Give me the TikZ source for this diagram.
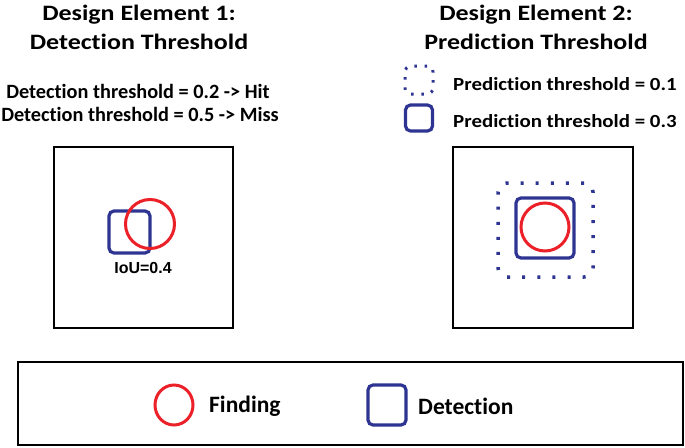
\documentclass[tikz,border=0pt]{standalone}
\usepackage{fontspec}
\usetikzlibrary{shapes.geometric}
\setmainfont{Carlito}[Ligatures={NoCommon}]
\newfontfamily\arialfont{Liberation Sans}
\definecolor{findred}{RGB}{236,32,40}
\definecolor{detblue}{RGB}{46,52,146}
\newcommand{\wider}[2]{\scalebox{#1}[1]{#2}}
\tikzset{
  frame/.style={draw=black, line width=2.4pt, inner sep=0pt},
  detbox/.style={draw=detblue, line width=3.2pt, rounded corners=5pt, inner sep=0pt},
  dotbox/.style={draw=detblue, line width=3.5pt, rounded corners=9pt, inner sep=0pt, dash pattern=on 3pt off 12.1pt},
  findcirc/.style={draw=findred, line width=3pt, circle, inner sep=0pt},
  title/.style={font=\fontsize{22}{27}\selectfont\bfseries, inner sep=0pt},
  label/.style={font=\fontsize{20.3}{25}\selectfont\bfseries, inner sep=0pt},
  plabel/.style={font=\fontsize{18.5}{22}\selectfont\bfseries, inner sep=0pt, anchor=west},
  leglabel/.style={font=\fontsize{23.5}{27}\selectfont\bfseries, anchor=west, inner sep=0pt},
}
\begin{document}
\begin{tikzpicture}[x=1pt,y=-1pt]
\useasboundingbox (0,0) rectangle (685,447);
% titles
\node[title] (t1a) at (139,15) {\wider{1.18}{Design Element 1:}};
\node[title] (t1b) at (139,42) {\wider{1.18}{Detection Threshold}};
\node[title] (t2a) at (536,15) {\wider{1.18}{Design Element 2:}};
\node[title] (t2b) at (536,42) {\wider{1.18}{Prediction Threshold}};
% left texts
\node[label] (d1) at (138,91) {Detection threshold = 0.2 -> Hit};
\node[label] (d2) at (140,114) {Detection threshold = 0.5 -> Miss};
% right legend
\node[dotbox, minimum width=28pt, minimum height=28pt, rounded corners=6pt, dash pattern=on 2.5pt off 7.67pt, line width=3pt] (lg1) at (419,80) {};
\node[detbox, minimum width=27pt, minimum height=26pt] (lg2) at (419,118) {};
\node[plabel] (p1) at (453,84) {\wider{1.13}{Prediction threshold = 0.1}};
\node[plabel] (p2) at (453,121) {\wider{1.13}{Prediction threshold = 0.3}};
% left frame
\node[frame, minimum width=179pt, minimum height=181pt] (f1) at (143.5,237.5) {};
\node[detbox, minimum width=41pt, minimum height=42pt] (b1) at (129.5,232) {};
\node[findcirc, minimum size=49pt] (c1) at (150,224) {};
\node[font=\arialfont\bfseries\fontsize{16}{19}\selectfont, inner sep=0pt] (iou) at (143,268) {IoU=0.4};
% right frame
\node[frame, minimum width=180pt, minimum height=181pt] (f2) at (543,237.5) {};
\node[dotbox, minimum width=95pt, minimum height=94pt] (b3) at (545.5,230) {};
\node[detbox, minimum width=58pt, minimum height=60pt] (b2) at (545,228) {};
\node[findcirc, minimum size=48pt] (c2) at (545,227) {};
% bottom legend
\node[frame, minimum width=665pt, minimum height=83pt] (leg) at (350.5,403.5) {};
\node[draw=findred, line width=3pt, ellipse, minimum width=38pt, minimum height=40pt, inner sep=0pt] (lc) at (174,405) {};
\node[leglabel] (lf) at (209,406) {Finding};
\node[detbox, minimum width=38pt, minimum height=40pt] (ld) at (387,405) {};
\node[leglabel] (lt) at (418,406) {Detection};
\end{tikzpicture}
\end{document}
